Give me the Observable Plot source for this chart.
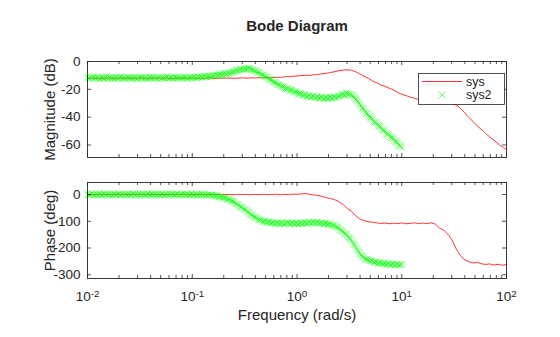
<!DOCTYPE html>
<html><head><meta charset="utf-8">
<script src="https://cdn.jsdelivr.net/npm/d3@7"></script>
<script src="https://cdn.jsdelivr.net/npm/@observablehq/plot@0.6"></script>
<style>
html,body{margin:0;padding:0;background:#fff;}
#chart{position:relative;width:560px;height:337px;overflow:hidden;font-family:"Liberation Sans",Arial,sans-serif;color:#262626;background:#fff;}
#top,#bottom{position:absolute;left:0;}
#top{top:0;} #bottom{top:170px;}
#legend{position:absolute;left:418px;top:73px;width:86px;height:31px;background:#fff;}
#legend svg{position:absolute;left:0;top:0;overflow:visible;}
</style></head><body>
<div id="chart"><div id="top"></div><div id="bottom"></div>
<div id="legend">
<svg width="86" height="31" font-family="Liberation Sans, Arial, sans-serif" font-size="12.4">
<rect x="0.5" y="0.5" width="86" height="31" fill="#fff" stroke="#262626" stroke-width="0.8"/>
<line x1="4" x2="44" y1="8.5" y2="8.5" stroke="#ff0000" stroke-width="0.8"/>
<text x="48" y="8.5" dy="0.35em" fill="#262626">sys</text>
<path d="M20.5,18.5L27.5,25.5M20.5,25.5L27.5,18.5" stroke="#00ff00" stroke-width="0.6" fill="none"/>
<text x="48" y="22" dy="0.35em" fill="#262626">sys2</text>
</svg></div>
</div>
<script>
// ---- data ----
const freqSys = [0.01,0.01096,0.01202,0.01318,0.01445,0.01585,0.01738,0.01905,0.02089,0.02291,
0.02512,0.02754,0.0302,0.03311,0.03631,0.03981,0.04365,0.04786,0.05248,0.05754,
0.0631,0.06918,0.07586,0.08318,0.0912,0.1,0.1096,0.1202,0.1318,0.1445,
0.1585,0.1738,0.1905,0.2089,0.2291,0.2512,0.2754,0.302,0.3311,0.3631,
0.3981,0.4365,0.4786,0.5248,0.5754,0.631,0.6918,0.7586,0.8318,0.912,
1,1.096,1.202,1.318,1.445,1.585,1.738,1.905,2.089,2.291,
2.512,2.754,3.02,3.311,3.631,3.981,4.365,4.786,5.248,5.754,
6.31,6.918,7.586,8.318,9.12,10,10.96,12.02,13.18,14.45,
15.85,17.38,19.05,20.89,22.91,25.12,27.54,30.2,33.11,36.31,
39.81,43.65,47.86,52.48,57.54,63.1,69.18,75.86,83.18,91.2,100];
const magSys = [-12.0,-11.8,-12.2,-11.9,-12.1,-11.7,-12.0,-12.3,-11.9,-12.0,
-11.8,-12.1,-12.0,-11.7,-12.2,-11.9,-12.0,-11.8,-12.1,-11.9,
-12.2,-11.9,-11.8,-12.1,-12.0,-11.8,-12.2,-11.9,-12.0,-11.7,
-12.0,-12.2,-11.9,-12.0,-11.8,-12.1,-11.9,-11.7,-12.0,-11.8,
-11.8,-11.6,-11.9,-11.5,-11.7,-11.3,-11.4,-11.0,-10.9,-10.6,
-10.4,-10.1,-9.9,-10.0,-9.6,-9.3,-8.8,-8.5,-7.9,-7.3,
-6.7,-6.2,-5.9,-6.3,-7.4,-8.9,-10.6,-12.1,-13.9,-15.3,
-16.8,-17.9,-19.2,-20.4,-22.1,-23.6,-24.5,-25.6,-26.4,-27.3,
-28.0,-28.4,-29.1,-29.3,-29.8,-29.6,-30.1,-30.5,-31.4,-33.6,
-36.8,-40.2,-43.1,-46.3,-48.8,-51.6,-54.2,-56.6,-59.1,-61.4,-63.2];
const phaseSys = [0.5,-0.8,0.3,1.0,-0.5,0.2,-1.1,0.7,-0.3,0.9,
-0.6,0.4,1.1,-0.9,0.2,-0.4,0.8,-1.0,0.5,-0.2,
0.9,-0.7,0.1,1.2,-0.8,0.3,-0.5,1.0,-0.9,0.4,
-0.3,0.8,-1.1,0.6,0.0,-0.7,1.2,-0.4,0.5,-1.0,
0.7,-0.2,1.0,-0.6,0.3,1.3,-0.8,0.9,0.2,1.5,
0.8,2.3,3.4,1.2,-1.9,-3.5,-7.2,-11.8,-14.6,-19.3,
-27.1,-37.4,-51.8,-62.5,-79.6,-91.3,-97.8,-101.6,-104.2,-105.8,
-108.1,-106.4,-109.3,-107.2,-108.8,-106.0,-109.5,-107.7,-105.9,-108.6,
-106.8,-108.9,-105.6,-110.4,-125.3,-133.0,-148.2,-170.6,-203.4,-228.1,
-244.5,-251.2,-255.8,-254.1,-258.9,-261.5,-259.3,-263.8,-260.7,-264.5,-262.1];

const freqSys2 = [
0.01,0.01023,0.01047,0.01072,0.01096,0.01122,0.01148,0.01175,0.01202,0.0123,
0.01259,0.01288,0.01318,0.01349,0.0138,0.01413,0.01445,0.01479,0.01514,0.01549,
0.01585,0.01622,0.0166,0.01698,0.01738,0.01778,0.0182,0.01862,0.01905,0.0195,
0.01995,0.02042,0.02089,0.02138,0.02188,0.02239,0.02291,0.02344,0.02399,0.02455,
0.02512,0.0257,0.0263,0.02692,0.02754,0.02818,0.02884,0.02951,0.0302,0.0309,
0.03162,0.03236,0.03311,0.03388,0.03467,0.03548,0.03631,0.03715,0.03802,0.0389,
0.03981,0.04074,0.04169,0.04266,0.04365,0.04467,0.04571,0.04677,0.04786,0.04898,
0.05012,0.05129,0.05248,0.0537,0.05495,0.05623,0.05754,0.05888,0.06026,0.06166,
0.0631,0.06457,0.06607,0.06761,0.06918,0.07079,0.07244,0.07413,0.07586,0.07762,
0.07943,0.08128,0.08318,0.08511,0.0871,0.08913,0.0912,0.09333,0.0955,0.09772,
0.1,0.1023,0.1047,0.1072,0.1096,0.1122,0.1148,0.1175,0.1202,0.123,
0.1259,0.1288,0.1318,0.1349,0.138,0.1413,0.1445,0.1479,0.1514,0.1549,
0.1585,0.1622,0.166,0.1698,0.1738,0.1778,0.182,0.1862,0.1905,0.195,
0.1995,0.2042,0.2089,0.2138,0.2188,0.2239,0.2291,0.2344,0.2399,0.2455,
0.2512,0.257,0.263,0.2692,0.2754,0.2818,0.2884,0.2951,0.302,0.309,
0.3162,0.3236,0.3311,0.3388,0.3467,0.3548,0.3631,0.3715,0.3802,0.389,
0.3981,0.4074,0.4169,0.4266,0.4365,0.4467,0.4571,0.4677,0.4786,0.4898,
0.5012,0.5129,0.5248,0.537,0.5495,0.5623,0.5754,0.5888,0.6026,0.6166,
0.631,0.6457,0.6607,0.6761,0.6918,0.7079,0.7244,0.7413,0.7586,0.7762,
0.7943,0.8128,0.8318,0.8511,0.871,0.8913,0.912,0.9333,0.955,0.9772,
1,1.023,1.047,1.072,1.096,1.122,1.148,1.175,1.202,1.23,
1.259,1.288,1.318,1.349,1.38,1.413,1.445,1.479,1.514,1.549,
1.585,1.622,1.66,1.698,1.738,1.778,1.82,1.862,1.905,1.95,
1.995,2.042,2.089,2.138,2.188,2.239,2.291,2.344,2.399,2.455,
2.512,2.57,2.63,2.692,2.754,2.818,2.884,2.951,3.02,3.09,
3.162,3.236,3.311,3.388,3.467,3.548,3.631,3.715,3.802,3.89,
3.981,4.074,4.169,4.266,4.365,4.467,4.571,4.677,4.786,4.898,
5.012,5.129,5.248,5.37,5.495,5.623,5.754,5.888,6.026,6.166,
6.31,6.457,6.607,6.761,6.918,7.079,7.244,7.413,7.586,7.762,
7.943,8.128,8.318,8.511,8.71,8.913,9.12,9.333,9.55,9.772,10];
const magSys2 = [
-11.2,-11.9,-12.4,-11.0,-11.6,-12.3,-10.9,-11.7,-12.1,-11.1,-11.5,-12.2,-12.8,-11.6,-11.3,-12.0,-11.9,-11.4,-10.8,-11.8,
-12.3,-11.4,-11.7,-12.5,-11.0,-11.8,-12.6,-11.3,-11.4,-12.2,-12.0,-11.1,-10.9,-12.4,-11.8,-11.5,-12.5,-11.9,-11.2,-12.1,
-11.9,-11.3,-12.7,-12.0,-11.1,-11.9,-11.6,-12.5,-12.2,-11.4,-10.8,-11.9,-11.7,-11.1,-12.4,-11.8,-11.3,-12.6,-12.0,-11.2,
-11.5,-12.2,-10.9,-11.6,-12.3,-11.2,-11.8,-12.4,-11.1,-11.7,-12.6,-11.9,-11.4,-12.2,-11.9,-11.0,-10.7,-11.8,-12.1,-11.5,
-11.6,-11.9,-12.4,-11.3,-11.0,-12.1,-11.8,-11.2,-12.2,-11.7,-11.3,-12.0,-10.9,-11.4,-11.7,-12.2,-12.3,-11.5,-11.2,-11.9,
-11.6,-11.1,-10.8,-11.7,-11.9,-10.9,-11.2,-11.4,-10.7,-11.2,-11.5,-10.5,-10.6,-11.1,-11.0,-10.4,-10.3,-10.9,-10.8,-10.0,
-10.2,-10.4,-9.7,-9.5,-10.1,-9.8,-9.3,-9.1,-9.6,-9.4,-8.8,-8.4,-9.1,-8.9,-8.2,-7.8,-8.5,-8.0,-7.6,-7.7,
-7.3,-6.9,-6.4,-6.2,-6.8,-5.9,-5.7,-5.3,-6.1,-5.8,-5.0,-5.4,-5.6,-4.9,-4.8,-5.1,-5.5,-6.0,-5.9,-6.3,
-6.8,-7.0,-7.9,-8.4,-7.6,-8.9,-9.2,-9.7,-9.8,-10.7,-11.0,-11.1,-11.6,-12.5,-12.9,-12.8,-13.4,-14.5,-15.0,-14.9,
-15.4,-16.3,-16.8,-16.6,-17.1,-18.0,-18.3,-17.9,-18.6,-19.5,-19.8,-19.3,-19.9,-20.6,-20.8,-20.3,-21.0,-21.8,-22.0,-21.5,
-22.3,-23.0,-23.4,-22.8,-23.1,-24.0,-24.5,-23.7,-24.1,-25.0,-25.3,-24.4,-24.7,-25.5,-25.8,-24.9,-25.0,-26.0,-26.1,-25.2,
-25.4,-26.2,-26.5,-25.5,-25.6,-26.9,-26.8,-25.8,-25.9,-26.7,-26.6,-25.6,-25.7,-26.5,-26.4,-25.4,-25.3,-26.1,-25.9,-25.0,
-24.6,-25.1,-24.1,-23.6,-23.4,-24.2,-23.9,-22.8,-22.9,-23.8,-23.3,-23.7,-24.5,-24.0,-25.2,-26.1,-27.2,-27.6,-28.6,-29.9,
-30.8,-31.7,-33.4,-33.6,-34.6,-36.3,-37.5,-37.4,-38.2,-39.7,-40.6,-40.5,-41.3,-43.0,-43.9,-43.4,-44.2,-45.7,-46.5,-46.1,
-47.0,-48.6,-49.6,-49.2,-50.2,-51.7,-52.4,-52.0,-52.9,-54.1,-54.8,-54.6,-55.5,-57.0,-57.9,-57.2,-58.4,-59.8,-60.6,-60.9,-62.0];
const phaseSys2 = [
1.5,-1.2,-2.8,0.9,3.1,1.8,-0.6,-2.9,2.4,0.2,-3.5,2.7,0.9,-1.4,-1.7,3.2,3.6,-0.3,-2.2,1.9,
0.4,-2.5,2.9,0.1,-3.1,2.2,1.2,-1.8,-1.0,3.0,3.3,-0.7,-2.6,1.5,0.7,-3.2,2.0,0.6,-3.4,2.5,
1.8,-2.1,-0.9,2.8,3.5,-0.4,-2.5,1.6,0.2,-3.3,2.6,0.8,-3.0,2.3,1.1,-1.9,-1.5,2.1,3.0,-0.8,
-2.1,2.4,0.8,-1.6,2.7,0.5,-3.3,1.9,1.4,-2.4,-0.5,3.1,3.2,-1.1,-2.7,2.0,0.3,-3.0,2.2,0.9,
-3.1,1.6,1.0,-2.2,-1.2,3.0,2.8,-0.9,-2.4,1.7,0.6,-3.2,3.4,0.4,-2.9,2.3,1.3,-1.6,-0.8,2.9,
2.1,-0.6,-2.6,1.9,0.5,-2.8,2.4,0.3,-3.2,1.5,0.0,-1.8,1.7,-2.4,-3.5,0.8,-0.4,-3.0,-2.1,-0.7,
-2.8,-3.9,-5.6,-3.2,-4.1,-7.5,-8.9,-7.0,-9.6,-12.4,-13.5,-11.6,-13.2,-16.9,-18.8,-16.5,-19.5,-23.8,-25.6,-24.0,
-27.4,-32.5,-34.9,-36.0,-39.2,-44.1,-46.8,-46.5,-48.5,-53.9,-56.3,-57.6,-61.7,-65.8,-67.0,-72.3,-75.4,-76.2,-80.1,-84.0,
-86.2,-85.4,-89.5,-93.1,-95.8,-94.0,-96.4,-100.2,-101.3,-98.6,-99.8,-103.8,-104.6,-101.7,-102.9,-106.5,-107.2,-104.1,-105.0,-108.8,
-108.3,-104.7,-105.4,-109.9,-109.6,-105.0,-106.2,-110.5,-110.1,-106.1,-107.3,-104.6,-105.8,-110.0,-109.4,-105.2,-106.5,-109.1,-110.2,-106.8,
-107.0,-110.6,-109.8,-106.4,-105.7,-109.3,-108.6,-104.4,-104.9,-108.7,-107.9,-103.5,-103.8,-107.6,-106.3,-102.6,-102.9,-106.8,-105.6,-103.1,
-104.2,-108.3,-107.5,-104.9,-106.1,-110.2,-109.8,-106.9,-108.0,-112.3,-111.6,-109.0,-110.4,-114.1,-115.3,-113.7,-116.1,-119.8,-121.4,-122.9,
-125.8,-131.2,-133.4,-135.9,-138.2,-144.0,-147.6,-148.9,-152.0,-159.4,-163.1,-165.2,-170.5,-179.6,-185.4,-188.9,-196.3,-204.1,-210.8,-214.5,
-220.2,-227.1,-230.5,-231.8,-235.1,-240.6,-242.7,-241.3,-244.3,-248.0,-249.8,-246.9,-248.6,-252.8,-254.2,-250.7,-252.1,-256.4,-257.3,-254.0,
-255.4,-258.6,-259.8,-256.1,-257.0,-261.9,-261.2,-257.7,-258.3,-263.0,-262.5,-258.8,-259.4,-264.2,-263.6,-259.9,-260.5,-263.3,-264.1,-260.4,-261.8];

const xMajor = [0.01, 0.1, 1, 10, 100];
const xTickExp = ["-2", "-1", "0", "1", "2"];
const xMinor = [0.02,0.03,0.04,0.05,0.06,0.07,0.08,0.09,0.2,0.3,0.4,0.5,0.6,0.7,0.8,0.9,
2,3,4,5,6,7,8,9,20,30,40,50,60,70,80,90];
const magTicks = [-60, -40, -20, 0];
const phaseTicks = [-300, -200, -100, 0];
const magDomain = [-69, 0];
const phaseDomain = [-314, 45];
const xDomain = [0.01, 100];

// ---- tables ----
const sys = freqSys.map((f, i) => ({f, mag: magSys[i], phase: phaseSys[i]}));
const sys2 = freqSys2.map((f, i) => ({f, mag: magSys2[i], phase: phaseSys2[i]}));
const expOf = new Map(xMajor.map((v, i) => [v, xTickExp[i]]));

const INK = "#262626";
const FW = 419, FH = 96, TL = 4, TLm = 3;
const style = {fontFamily: "'Liberation Sans', Arial, sans-serif", fontSize: "13.5px", color: INK, background: "transparent", overflow: "visible"};

function tickMarks(yTicks) {
  return [
    Plot.ruleX(xMajor, {x: d => d, insetTop: FH - TL, stroke: INK, strokeWidth: 0.8}),
    Plot.ruleX(xMajor, {x: d => d, insetBottom: FH - TL, stroke: INK, strokeWidth: 0.8}),
    Plot.ruleX(xMinor, {x: d => d, insetTop: FH - TLm, stroke: INK, strokeWidth: 0.8}),
    Plot.ruleX(xMinor, {x: d => d, insetBottom: FH - TLm, stroke: INK, strokeWidth: 0.8}),
    Plot.ruleY(yTicks, {y: d => d, insetRight: FW - TL, stroke: INK, strokeWidth: 0.8}),
    Plot.ruleY(yTicks, {y: d => d, insetLeft: FW - TL, stroke: INK, strokeWidth: 0.8}),
    Plot.frame({stroke: INK, strokeWidth: 0.9})
  ];
}

const topPlot = Plot.plot({
  width: 560, height: 170,
  marginLeft: 87, marginRight: 54, marginTop: 61, marginBottom: 13,
  style,
  x: {type: "log", domain: xDomain, axis: null},
  y: {domain: magDomain},
  marks: [
    Plot.axisY({ticks: magTicks, tickSize: 0, tickPadding: 7, label: null, tickFormat: d => String(d), fill: INK}),
    Plot.line(sys, {x: "f", y: "mag", stroke: "#ff0000", strokeWidth: 0.8}),
    Plot.dot(sys2, {x: "f", y: "mag", symbol: "times", r: 3.0, stroke: "#00ff00", strokeWidth: 0.5}),
    ...tickMarks(magTicks),
    Plot.text(["Magnitude (dB)"], {text: d => d, frameAnchor: "left", textAnchor: "middle", dx: -37, rotate: -90, fontSize: 15, fill: INK}),
    Plot.text(["Bode Diagram"], {text: d => d, frameAnchor: "top", dy: -41, fontSize: 15, fontWeight: "bold", fill: INK})
  ]
});
document.getElementById("top").appendChild(topPlot);

const bottomPlot = Plot.plot({
  width: 560, height: 167,
  marginLeft: 87, marginRight: 54, marginTop: 12, marginBottom: 59,
  style,
  x: {type: "log", domain: xDomain},
  y: {domain: phaseDomain},
  marks: [
    Plot.axisY({ticks: phaseTicks, tickSize: 0, tickPadding: 7, label: null, tickFormat: d => String(d), fill: INK}),
    Plot.axisX({ticks: xMajor, tickSize: 0, tickPadding: 13, label: null, tickFormat: d => "10^" + expOf.get(d), fill: INK}),
    Plot.line(sys, {x: "f", y: "phase", stroke: "#ff0000", strokeWidth: 0.8}),
    Plot.dot(sys2, {x: "f", y: "phase", symbol: "times", r: 3.0, stroke: "#00ff00", strokeWidth: 0.5}),
    ...tickMarks(phaseTicks),
    Plot.text(["Phase (deg)"], {text: d => d, frameAnchor: "left", textAnchor: "middle", dx: -37, rotate: -90, fontSize: 15, fill: INK}),
    Plot.text(["Frequency (rad/s)"], {text: d => d, frameAnchor: "bottom", dy: 41, fontSize: 15, fill: INK})
  ]
});
// superscript exponents on x tick labels
bottomPlot.querySelectorAll("text").forEach(t => {
  const s = t.textContent;
  if (s.startsWith("10^") && t.children.length === 0) {
    const e = s.slice(3);
    t.textContent = "10";
    const ts = document.createElementNS("http://www.w3.org/2000/svg", "tspan");
    ts.setAttribute("dy", "-0.45em");
    ts.setAttribute("font-size", "0.72em");
    ts.textContent = e;
    t.appendChild(ts);
  }
});
document.getElementById("bottom").appendChild(bottomPlot);
</script>
</body></html>
